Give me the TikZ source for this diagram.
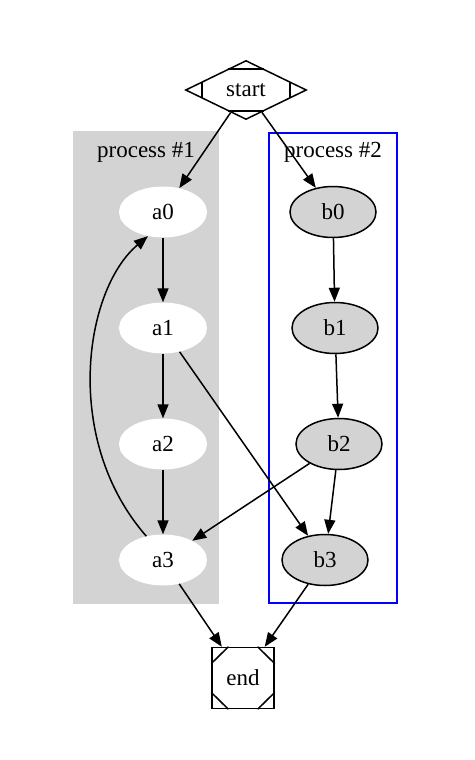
\documentclass[tikz,border=0pt]{standalone}
\usepackage{fontspec}
\setmainfont{Liberation Serif}
\usetikzlibrary{shapes.geometric,arrows.meta,calc}
\definecolor{lgray}{HTML}{D3D3D3}
\begin{document}
\begin{tikzpicture}[x=1pt,y=-1pt,
  every node/.style={font=\fontsize{23}{27}\selectfont, inner sep=0pt},
  anode/.style={ellipse, fill=white, minimum width=88pt, minimum height=51pt},
  bnode/.style={ellipse, draw, line width=1.5pt, fill=lgray, minimum width=86pt, minimum height=51pt},
  edge/.style={line width=1.5pt, -{Triangle[length=14pt,width=11pt]}},
  cornerline/.style={line width=1.5pt}
]
\useasboundingbox (0,0) rectangle (474,760);
% clusters
\fill[lgray] (73,131) rectangle (219,604);
\draw[blue, line width=1.5pt] (269,133) rectangle (397,603);
\node (c1) at (146,152) {process \#1};
\node (c2) at (333,152) {process \#2};
% nodes
\node[anode] (a0) at (163,212) {a0};
\node[anode] (a1) at (163,328) {a1};
\node[anode] (a2) at (163,444) {a2};
\node[anode] (a3) at (163,560) {a3};
\node[bnode] (b0) at (333,212) {b0};
\node[bnode] (b1) at (335,328) {b1};
\node[bnode] (b2) at (339,444) {b2};
\node[bnode] (b3) at (325,560) {b3};
% start (Mdiamond)
\node[diamond, draw, line width=1.5pt, fill=white, minimum width=121pt, minimum height=59pt] (s) at (246,90) {start};
\draw[cornerline] ($(s.north)!0.3!(s.west)$) -- ($(s.north)!0.3!(s.east)$);
\draw[cornerline] ($(s.south)!0.3!(s.west)$) -- ($(s.south)!0.3!(s.east)$);
\draw[cornerline] ($(s.west)!0.28!(s.north)$) -- ($(s.west)!0.28!(s.south)$);
\draw[cornerline] ($(s.east)!0.28!(s.north)$) -- ($(s.east)!0.28!(s.south)$);
% end (Msquare)
\node[rectangle, draw, line width=1.5pt, minimum width=62pt, minimum height=61pt] (e) at (243,678) {end};
\draw[cornerline] ($(e.north west)!0.27!(e.north east)$) -- ($(e.north west)!0.27!(e.south west)$);
\draw[cornerline] ($(e.north east)!0.27!(e.north west)$) -- ($(e.north east)!0.27!(e.south east)$);
\draw[cornerline] ($(e.south west)!0.27!(e.south east)$) -- ($(e.south west)!0.27!(e.north west)$);
\draw[cornerline] ($(e.south east)!0.27!(e.south west)$) -- ($(e.south east)!0.27!(e.north east)$);
% edges
\draw[edge] (s) -- (a0);
\draw[edge] (s) -- (b0);
\draw[edge] (a0) -- (a1);
\draw[edge] (a1) -- (a2);
\draw[edge] (a2) -- (a3);
\draw[edge] (a3.125) .. controls (62,440) and (84,290) .. (a0.238);
\draw[edge] (a1) -- (b3);
\draw[edge] (b2) -- (a3);
\draw[edge] (b0) -- (b1);
\draw[edge] (b1) -- (b2);
\draw[edge] (b2) -- (b3);
\draw[edge] (a3) -- (e);
\draw[edge] (b3) -- (e);
\end{tikzpicture}
\end{document}
